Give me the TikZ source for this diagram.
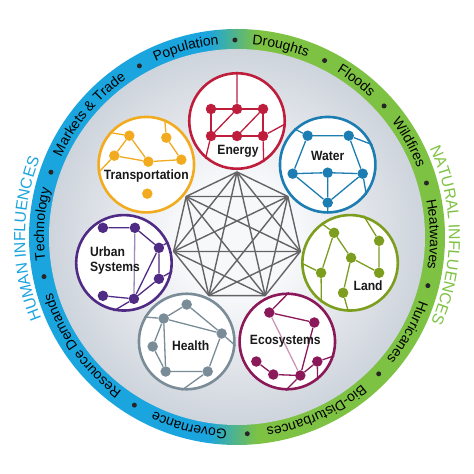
\documentclass[tikz,border=0pt]{standalone}
\usepackage{fontspec}
\setmainfont{Liberation Sans}
\newfontfamily\labfamily{Liberation Sans}[FakeStretch=0.9]
\usetikzlibrary{decorations.text}

\newlength{\du}
\setlength{\du}{1bp}

\definecolor{ringblue}{RGB}{27,165,222}
\definecolor{ringgreen}{RGB}{126,194,67}
\definecolor{discmid}{RGB}{247,248,250}
\definecolor{discedge}{RGB}{206,212,220}
\definecolor{heptgrey}{RGB}{100,100,102}
\definecolor{energyred}{RGB}{190,29,60}
\definecolor{waterblue}{RGB}{27,125,178}
\definecolor{landgreen}{RGB}{124,157,29}
\definecolor{ecoplum}{RGB}{139,24,88}
\definecolor{healthgrey}{RGB}{121,140,151}
\definecolor{urbanpurple}{RGB}{80,43,133}
\definecolor{transamber}{RGB}{242,170,30}

\pgfdeclarehorizontalshading{ringshade}{100bp}{color(0bp)=(ringblue); color(46.5bp)=(ringblue); color(52.5bp)=(ringgreen); color(100bp)=(ringgreen)}
\pgfdeclareradialshading{discshade}{\pgfpoint{0bp}{0bp}}{color(0bp)=(discmid); color(8bp)=(discmid); color(25bp)=(discedge); color(50bp)=(discedge)}

\newcommand{\ringfont}{\fontsize{14}{16}\selectfont}
\newcommand{\sidefont}{\fontsize{16}{18}\selectfont}
\newcommand{\labfont}{\labfamily\bfseries\fontsize{13.5}{15}\selectfont}

\tikzset{
  ringtext/.style={decorate, decoration={text along path, text={|\ringfont|#1}, text align=center}},
  sidetext/.style 2 args={decorate, decoration={text along path, text={|\sidefont|#2}, text color=#1, text align=center}},
  ringdot/.style={circle, fill=black!85, minimum size=5\du, inner sep=0pt},
  heptline/.style={draw=heptgrey, line width=1.4\du, line join=round},
  syscircle/.style={circle, draw=#1, fill=white, line width=2.6\du, minimum size=95.5\du, inner sep=0pt},
  netdot/.style={circle, fill=#1, minimum size=10.5\du, inner sep=0pt},
  netline/.style={draw=#1, line width=1.3\du},
  syslabel/.style={font=\labfont, text=black!90, inner sep=1\du, align=left}
}

\begin{document}
\begin{tikzpicture}
\useasboundingbox (-237\du,-237\du) rectangle (237\du,237\du);

% ring and grey disc
\shade[shading=ringshade] (0,0) circle (208\du);
\shade[shading=discshade] (0,0) circle (188\du);

% influences on the ring
\path[ringtext={Technology}] (191.6:193\du) arc[start angle=191.6, end angle=160.8, radius=193\du];
\path[ringtext={Markets {\&} Trade}] (160.8:193\du) arc[start angle=160.8, end angle=119.7, radius=193\du];
\path[ringtext={Population}] (119.7:193\du) arc[start angle=119.7, end angle=90.6, radius=193\du];
\path[ringtext={Droughts}] (90.6:193\du) arc[start angle=90.6, end angle=63.6, radius=193\du];
\path[ringtext={Floods}] (63.6:193\du) arc[start angle=63.6, end angle=41.7, radius=193\du];
\path[ringtext={Wildfires}] (41.7:193\du) arc[start angle=41.7, end angle=15.9, radius=193\du];
\path[ringtext={Heatwaves}] (15.9:193\du) arc[start angle=15.9, end angle=-14.3, radius=193\du];
\path[ringtext={Hurricanes}] (-14.3:193\du) arc[start angle=-14.3, end angle=-44, radius=193\du];
\path[ringtext={Bio-Disturbances}] (-44:193\du) arc[start angle=-44, end angle=-87, radius=193\du];
\path[ringtext={Governance}] (-87:193\du) arc[start angle=-87, end angle=-121.4, radius=193\du];
\path[ringtext={Resource Demands}] (238.6:193\du) arc[start angle=238.6, end angle=191.6, radius=193\du];

\node[ringdot] (b1) at (191.6:197\du) {};
\node[ringdot] (b2) at (160.8:197\du) {};
\node[ringdot] (b3) at (119.7:197\du) {};
\node[ringdot] (b4) at (90.6:197\du) {};
\node[ringdot] (b5) at (63.6:197\du) {};
\node[ringdot] (b6) at (41.7:197\du) {};
\node[ringdot] (b7) at (15.9:197\du) {};
\node[ringdot] (b8) at (-14.3:197\du) {};
\node[ringdot] (b9) at (-44:197\du) {};
\node[ringdot] (b10) at (-87:197\du) {};
\node[ringdot] (b11) at (-121.4:197\du) {};

\path[sidetext={ringblue}{HUMAN INFLUENCES}] (204:212\du) arc[start angle=204, end angle=157, radius=212\du];
\path[sidetext={ringgreen}{NATURAL INFLUENCES}] (26:212\du) arc[start angle=26, end angle=-25, radius=212\du];

% all-to-all links in the middle
\coordinate (k1) at (90:65\du);
\coordinate (k2) at (38.57:65\du);
\coordinate (k3) at (-12.86:65\du);
\coordinate (k4) at (-64.29:65\du);
\coordinate (k5) at (-115.71:65\du);
\coordinate (k6) at (-167.14:65\du);
\coordinate (k7) at (141.43:65\du);
\draw[heptline] (k1)--(k2)--(k3)--(k4)--(k5)--(k6)--(k7)--cycle;
\draw[heptline] (k1)--(k3) (k1)--(k4) (k1)--(k5) (k1)--(k6);
\draw[heptline] (k2)--(k4) (k2)--(k5) (k2)--(k6) (k2)--(k7);
\draw[heptline] (k3)--(k5) (k3)--(k6) (k3)--(k7);
\draw[heptline] (k4)--(k6) (k4)--(k7);
\draw[heptline] (k5)--(k7);

% Energy
\node[syscircle=energyred] (energy) at (90:116\du) {};
\node[netdot=energyred] (e1) at ([shift={(-26\du,12\du)}]energy.center) {};
\node[netdot=energyred] (e2) at ([shift={(0\du,12\du)}]energy.center) {};
\node[netdot=energyred] (e3) at ([shift={(26\du,12\du)}]energy.center) {};
\node[netdot=energyred] (e4) at ([shift={(-26\du,-15\du)}]energy.center) {};
\node[netdot=energyred] (e5) at ([shift={(0\du,-15\du)}]energy.center) {};
\node[netdot=energyred] (e6) at ([shift={(26\du,-15\du)}]energy.center) {};
\draw[netline=energyred] (e1)--(e2)--(e3)--(e6)--(e5)--(e4)--(e1);
\draw[netline=energyred] (e4)--(e2) (e5)--(e3);
\draw[netline=energyred] (e2)--(energy.90) (e6)--(energy.-57) (e6)--(energy.-3) (e4)--(energy.230);
\node[syslabel] (energy-lab) at ([shift={(1\du,-30\du)}]energy.center) {Energy};

% Water
\node[syscircle=waterblue] (water) at (38.57:116\du) {};
\node[netdot=waterblue] (w1) at ([shift={(-20\du,29\du)}]water.center) {};
\node[netdot=waterblue] (w2) at ([shift={(21\du,29\du)}]water.center) {};
\node[netdot=waterblue] (w3) at ([shift={(-35\du,-9\du)}]water.center) {};
\node[netdot=waterblue] (w4) at ([shift={(0\du,-8\du)}]water.center) {};
\node[netdot=waterblue] (w5) at ([shift={(35\du,-9\du)}]water.center) {};
\node[netdot=waterblue] (w6) at ([shift={(0\du,-38\du)}]water.center) {};
\draw[netline=waterblue] (w1)--(w2)--(w5)--(w6)--(w3)--(w1);
\draw[netline=waterblue] (w3)--(w4)--(w5) (w4)--(w6);
\draw[netline=waterblue] (w1)--(water.133) (w2)--(water.24) (w5)--(water.-38) (w6)--(water.270);
\node[syslabel] (water-lab) at ([shift={(0\du,9\du)}]water.center) {Water};

% Land
\node[syscircle=landgreen] (land) at (-12.86:116\du) {};
\node[netdot=landgreen] (l1) at ([shift={(-16\du,30\du)}]land.center) {};
\node[netdot=landgreen] (l2) at ([shift={(29\du,22\du)}]land.center) {};
\node[netdot=landgreen] (l3) at ([shift={(1\du,5\du)}]land.center) {};
\node[netdot=landgreen] (l4) at ([shift={(-29\du,-10\du)}]land.center) {};
\node[netdot=landgreen] (l5) at ([shift={(29\du,-10\du)}]land.center) {};
\node[netdot=landgreen] (l6) at ([shift={(-7\du,-30\du)}]land.center) {};
\draw[netline=landgreen] (l4)--(l1)--(l3)--(l5)--(l2) (l3)--(l6);
\draw[netline=landgreen] (l4)--(land.180) (l4)--(land.234) (l1)--(land.126) (l2)--(land.74) (l6)--(land.268);
\node[syslabel] (land-lab) at ([shift={(18\du,-23\du)}]land.center) {Land};

% Ecosystems
\node[syscircle=ecoplum] (eco) at (-64.29:116\du) {};
\node[netdot=ecoplum] (c1) at ([shift={(-18\du,29\du)}]eco.center) {};
\node[netdot=ecoplum] (c2) at ([shift={(27\du,19\du)}]eco.center) {};
\node[netdot=ecoplum] (c3) at ([shift={(-31\du,-20\du)}]eco.center) {};
\node[netdot=ecoplum] (c4) at ([shift={(-14\du,-33\du)}]eco.center) {};
\node[netdot=ecoplum] (c5) at ([shift={(13\du,-34\du)}]eco.center) {};
\node[netdot=ecoplum] (c6) at ([shift={(30\du,-20\du)}]eco.center) {};
\draw[netline=ecoplum!45] (c1)--(c5);
\draw[netline=ecoplum] (c1)--(c2)--(c5) (c3)--(c4)--(c5)--(c6);
\draw[netline=ecoplum] (c1)--(eco.88) (c6)--(eco.-17) (c6)--(eco.-52) (c5)--(eco.268);
\node[syslabel] (eco-lab) at ([shift={(-2\du,0\du)}]eco.center) {Ecosystems};

% Health
\node[syscircle=healthgrey] (health) at (-115.71:116\du) {};
\node[netdot=healthgrey] (h1) at ([shift={(0\du,37\du)}]health.center) {};
\node[netdot=healthgrey] (h2) at ([shift={(-23\du,23\du)}]health.center) {};
\node[netdot=healthgrey] (h3) at ([shift={(35\du,8\du)}]health.center) {};
\node[netdot=healthgrey] (h4) at ([shift={(-34\du,-5\du)}]health.center) {};
\node[netdot=healthgrey] (h5) at ([shift={(-21\du,-30\du)}]health.center) {};
\node[netdot=healthgrey] (h6) at ([shift={(21\du,-30\du)}]health.center) {};
\draw[netline=healthgrey] (h1)--(h2)--(h4)--(h5)--(h6)--(h3)--(h1) (h2)--(h3) (h2)--(h5);
\draw[netline=healthgrey] (h2)--(health.150) (h3)--(health.-5) (h6)--(health.264);
\node[syslabel] (health-lab) at ([shift={(4\du,-4\du)}]health.center) {Health};

% Urban Systems
\node[syscircle=urbanpurple] (urban) at (-167.14:116\du) {};
\node[netdot=urbanpurple] (u1) at ([shift={(-21\du,35\du)}]urban.center) {};
\node[netdot=urbanpurple] (u2) at ([shift={(11\du,35\du)}]urban.center) {};
\node[netdot=urbanpurple] (u3) at ([shift={(35\du,15\du)}]urban.center) {};
\node[netdot=urbanpurple] (u4) at ([shift={(35\du,-16\du)}]urban.center) {};
\node[netdot=urbanpurple] (u5) at ([shift={(10\du,-36\du)}]urban.center) {};
\node[netdot=urbanpurple] (u6) at ([shift={(-21\du,-33\du)}]urban.center) {};
\draw[netline=urbanpurple!55] (u2)--(u5);
\draw[netline=urbanpurple] (u1)--(u2)--(u3)--(u4)--(u5)--(u6) (u3)--(u5);
\draw[netline=urbanpurple] (u3)--(urban.25) (u4)--(urban.-10) (u5)--(urban.258);
\node[syslabel] (urban-lab) at ([shift={(-9\du,2\du)}]urban.center) {Urban\\Systems};

% Transportation
\node[syscircle=transamber] (transport) at (141.43:116\du) {};
\node[netdot=transamber] (t1) at ([shift={(-17\du,29\du)}]transport.center) {};
\node[netdot=transamber] (t2) at ([shift={(20\du,27\du)}]transport.center) {};
\node[netdot=transamber] (t3) at ([shift={(-32\du,9\du)}]transport.center) {};
\node[netdot=transamber] (t4) at ([shift={(2\du,3\du)}]transport.center) {};
\node[netdot=transamber] (t5) at ([shift={(35\du,5\du)}]transport.center) {};
\node[netdot=transamber] (t6) at ([shift={(1\du,-29\du)}]transport.center) {};
\draw[netline=transamber] (t1)--(t3)--(t4)--(t5)--(t2) (t1)--(t4);
\draw[netline=transamber] (t1)--(transport.139) (t2)--(transport.68) (t3)--(transport.190);
\node[syslabel] (transport-lab) at ([shift={(0\du,-11\du)}]transport.center) {Transportation};

\end{tikzpicture}
\end{document}
